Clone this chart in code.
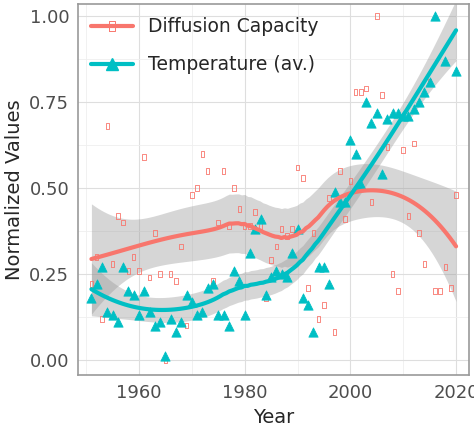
import numpy as np, pandas as pd, matplotlib
matplotlib.use("Agg")
import matplotlib.pyplot as plt, seaborn as sns
from matplotlib.lines import Line2D

years_t = list(range(1951, 2017)) + [2018, 2020]
temp = [0.18,0.22,0.27,0.14,0.13,0.11,0.27,0.20,0.19,0.13,0.20,0.14,0.10,0.11,0.01,0.12,0.08,0.11,0.19,0.17,
        0.13,0.14,0.21,0.22,0.13,0.13,0.10,0.26,0.23,0.13,0.31,0.38,0.41,0.19,0.24,0.26,0.25,0.24,0.31,0.38,
        0.18,0.16,0.08,0.27,0.27,0.22,0.49,0.46,0.46,0.64,0.60,0.51,0.75,0.69,0.72,0.54,0.70,0.72,0.72,0.71,
        0.71,0.73,0.75,0.78,0.81,1.00,0.87,0.84]
years_d = list(range(1951, 2021))
diff = [0.22,0.30,0.12,0.68,0.28,0.42,0.40,0.26,0.30,0.26,0.59,0.24,0.37,0.25,0.00,0.25,0.23,0.33,0.10,0.48,
        0.50,0.60,0.55,0.23,0.40,0.55,0.39,0.50,0.44,0.39,0.39,0.43,0.39,0.18,0.29,0.33,0.38,0.36,0.38,0.56,
        0.53,0.21,0.37,0.12,0.16,0.47,0.08,0.55,0.41,0.52,0.78,0.78,0.79,0.46,1.00,0.77,0.62,0.25,0.20,0.61,
        0.42,0.63,0.37,0.28,0.81,0.20,0.20,0.27,0.21,0.48]

def loess(x, y, grid, span=0.75):
    x = np.asarray(x, float); y = np.asarray(y, float)
    n = len(x); k = int(np.ceil(span * n))
    fit = []; L = []
    for g in grid:
        d = np.abs(x - g); h = np.sort(d)[k - 1]
        w = np.clip(1 - (d / h) ** 3, 0, None) ** 3
        X = np.vstack([np.ones(n), x - g, (x - g) ** 2]).T
        W = np.diag(w)
        A = np.linalg.pinv(X.T @ W @ X) @ X.T @ W
        l = A[0]; L.append(l); fit.append(l @ y)
    fit = np.array(fit); L = np.array(L)
    yh = np.array([np.interp(xi, grid, fit) for xi in x])
    sigma = np.sqrt(np.sum((y - yh) ** 2) / (n - 3.5))
    se = sigma * np.sqrt(np.sum(L ** 2, axis=1))
    return fit, se

sns.set_style("whitegrid", {"axes.edgecolor": "#999999", "grid.color": "#dedede"})
plt.rcParams["font.family"] = ["DejaVu Sans"]
fig, ax = plt.subplots(figsize=(4.74, 4.29), dpi=100)
red, teal = "#F8766D", "#00BFC4"

sns.scatterplot(x=years_d, y=diff, marker=[(-0.6, -1), (0.6, -1), (0.6, 1), (-0.6, 1), (-0.6, -1)], s=18,
                facecolor="none", edgecolor=red, linewidth=0.6, ax=ax, zorder=2)
sns.scatterplot(x=years_t, y=temp, marker="^", s=45, color=teal, edgecolor=teal, ax=ax, zorder=3)

for xs, ys, c in [(years_d, diff, red), (years_t, temp, teal)]:
    grid = np.linspace(min(xs), max(xs), 120)
    f, se = loess(xs, ys, grid)
    ax.fill_between(grid, f - 1.99 * se, f + 1.99 * se, color="#999999", alpha=0.4, lw=0, zorder=1)
    sns.lineplot(x=grid, y=f, color=c, lw=3, ax=ax, zorder=4)

ax.set_xlim(1948.5, 2022.5)
ax.set_ylim(-0.045, 1.035)
ax.set_xticks([1960, 1980, 2000, 2020])
ax.set_yticks([0, 0.25, 0.5, 0.75, 1.0])
ax.set_yticklabels(["0.00", "0.25", "0.50", "0.75", "1.00"])
ax.set_xticks(np.arange(1950, 2030, 10), minor=True)
ax.set_yticks([0.125, 0.375, 0.625, 0.875], minor=True)
ax.grid(which="minor", color="#efefef", lw=0.6)
ax.tick_params(labelsize=13, colors="#4d4d4d", length=3)
ax.set_xlabel("Year", fontsize=14)
ax.set_ylabel("Normalized Values", fontsize=14)
for s in ax.spines.values():
    s.set_linewidth(1.2)

h = [Line2D([], [], color=red, lw=3, marker=[(-0.6, -1), (0.6, -1), (0.6, 1), (-0.6, 1), (-0.6, -1)], ms=7, mfc="none", mec=red, mew=0.7),
     Line2D([], [], color=teal, lw=3, marker="^", ms=9, mfc=teal, mec=teal)]
ax.legend(h, ["Diffusion Capacity", "Temperature (av.)"], loc="upper left", frameon=False,
          fontsize=13.5, handlelength=2.2, labelspacing=1.0, borderaxespad=0.3)
fig.subplots_adjust(left=0.165, right=0.99, top=0.99, bottom=0.125)
fig.savefig("out.png", dpi=100)
